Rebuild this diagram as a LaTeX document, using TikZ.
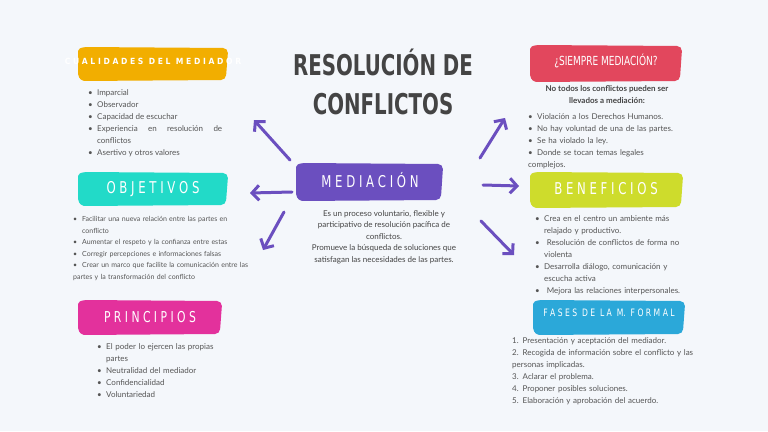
\documentclass[tikz,border=0pt]{standalone}
\usepackage{fontspec}
\setmainfont{Lato}
\newfontfamily\cond{DejaVu Sans Condensed}
\usetikzlibrary{arrows.meta}
\definecolor{bg}{HTML}{F4F7FB}
\definecolor{corange}{HTML}{F2AE00}
\definecolor{cteal}{HTML}{22DAC8}
\definecolor{cmag}{HTML}{E3319C}
\definecolor{cred}{HTML}{E2475D}
\definecolor{clime}{HTML}{CEDC2C}
\definecolor{cblue}{HTML}{2BA8D9}
\definecolor{cpurp}{HTML}{6B4FBF}
\definecolor{ctxt}{HTML}{555555}
\definecolor{ctitle}{HTML}{444444}
\newcommand{\itm}{\par\hangindent=9pt\hangafter=1\makebox[9pt][l]{\textbullet}}
\newcommand{\nohy}{\hyphenpenalty=10000\relax}
\tikzset{
 banner/.style={text=white,inner sep=0pt},
 body/.style={text=ctxt,align=left,inner sep=0pt,anchor=north west,font=\fontsize{8}{12}\selectfont\nohy},
 small/.style={body,font=\fontsize{7}{11.5}\selectfont\nohy},
 arr/.style={cpurp,line width=3pt,line cap=round,-{Straight Barb[length=7pt,width=15pt,line width=3pt]}}
}
\newcommand{\ban}[5]{% x1 y1 x2 y2 colour
 \fill[#5,rounded corners=2pt] (#1,#2+2) -- (#1+6,#2) -- (#3-3,#2+1) -- (#3,#2+4) -- (#3-2,#4-3) -- (#3-5,#4) -- (#1+4,#4+1) -- (#1,#4-4) -- cycle;}
\begin{document}
\begin{tikzpicture}[x=1pt,y=-1pt]
\fill[bg] (0,0) rectangle (768,431);
\useasboundingbox (0,0) rectangle (768,431);
% banners
\ban{78}{47}{228}{80}{corange}
\node[banner,font=\cond\bfseries\fontsize{8.5}{10}\selectfont] (cual) at (153,61) {C U A L I D A D E S\ \ D E L\ \ M E D I A D O R};
\ban{78}{172}{228}{205}{cteal}
\node[banner,font=\cond\fontsize{13}{14}\selectfont,yscale=1.25,transform shape] (obj) at (153,189) {O B J E T I V O S};
\ban{78}{300}{222}{334}{cmag}
\node[banner,font=\cond\fontsize{12}{14}\selectfont,yscale=1.25,transform shape] (pri) at (150,317) {P R I N C I P I O S};
\ban{530}{45}{682}{81}{cred}
\node[banner,font=\cond\fontsize{10}{12}\selectfont,yscale=1.25,transform shape] (sie) at (606,61) {¿SIEMPRE MEDIACIÓN?};
\ban{530}{172}{683}{207}{clime}
\node[banner,font=\cond\fontsize{13}{14}\selectfont,yscale=1.25,transform shape] (ben) at (606,189) {B E N E F I C I O S};
\ban{533}{300}{685}{334}{cblue}
\node[banner,font=\cond\fontsize{8.5}{10}\selectfont,yscale=1.2,transform shape] (fas) at (609,313) {F A S E S\ \ D E\ \ L A\ \ M.\ \ F O R M A L};
\ban{296}{163}{443}{200}{cpurp}
\node[banner,font=\cond\fontsize{13}{14}\selectfont,yscale=1.25,transform shape] (med) at (370,180) {M E D I A C I Ó N};
% title
\node[text=ctitle,font=\cond\bfseries\fontsize{22}{30}\selectfont,align=center,yscale=1.3,transform shape] (tit) at (383,82) {RESOLUCIÓN DE\\CONFLICTOS};
% arrows
\coordinate (a1) at (290,160); \coordinate (b1) at (254,120);
\coordinate (a2) at (292,192); \coordinate (b2) at (250,193);
\coordinate (a3) at (284,212); \coordinate (b3) at (263,250);
\coordinate (a4) at (480,158); \coordinate (b4) at (505,118);
\coordinate (a5) at (483,185); \coordinate (b5) at (519,186);
\coordinate (a6) at (481,221); \coordinate (b6) at (514,255);
\foreach \i in {1,...,6} \draw[arr] (a\i) -- (b\i);
% texts
\node[body,text width=134pt,align=justify] (t1) at (88,83) {\itm Imparcial\itm Observador\itm Capacidad de escuchar\itm Experiencia en resolución de conflictos\itm Asertivo y otros valores};
\node[small,text width=178pt] (t2) at (73,210) {\itm Facilitar una nueva relación entre las partes en conflicto\itm Aumentar el respeto y la confianza entre estas\itm Corregir percepciones e informaciones falsas\itm Crear un marco que facilite la comunicación entre las partes y la transformación del conflicto};
\node[body,text width=125pt] (t3) at (97,337) {\itm El poder lo ejercen las propias partes\itm Neutralidad del mediador\itm Confidencialidad\itm Voluntariedad};
\node[text=ctitle,font=\bfseries\fontsize{8}{12}\selectfont,align=center] (t4h) at (607,95) {No todos los conflictos pueden ser\\llevados a mediación:};
\node[body,text width=150pt] (t4) at (528,107) {\itm Violación a los Derechos Humanos.\itm No hay voluntad de una de las partes.\itm Se ha violado la ley.\itm Donde se tocan temas legales complejos.};
\node[body,text width=155pt] (t5) at (535,209) {\itm Crea en el centro un ambiente más relajado y productivo.\itm\ Resolución de conflictos de forma no violenta\itm Desarrolla diálogo, comunicación y escucha activa\itm\ Mejora las relaciones interpersonales.};
\node[body,text width=200pt] (t6) at (512,337) {\raggedright 1. Presentación y aceptación del mediador.\par 2. Recogida de información sobre el conflicto y las personas implicadas.\par 3. Aclarar el problema.\par 4. Proponer posibles soluciones.\par 5. Elaboración y aprobación del acuerdo.};
\node[text=ctitle,font=\fontsize{8}{11.5}\selectfont,align=center] (t7) at (384,237) {Es un proceso voluntario, flexible y\\participativo de resolución pacífica de\\conflictos.\\Promueve la búsqueda de soluciones que\\satisfagan las necesidades de las partes.};
\end{tikzpicture}
\end{document}
